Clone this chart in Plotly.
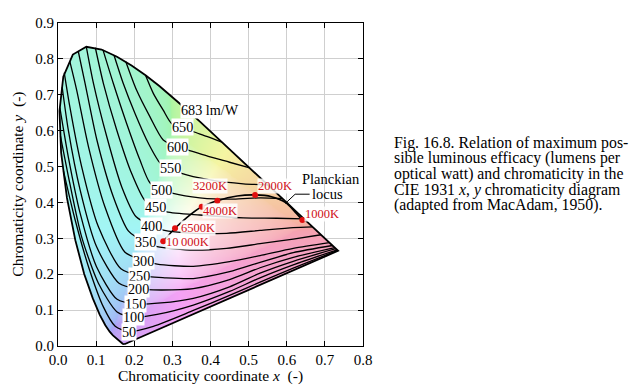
import numpy as np
import plotly.graph_objects as go

# ---------------- data ----------------
# CIE 1931 spectral locus, 380 nm ... 700 nm
locus_x = [0.1741, 0.1740, 0.1738, 0.1736, 0.1733, 0.1730, 0.1726, 0.1721, 0.1714, 0.1703,
           0.1689, 0.1669, 0.1644, 0.1611, 0.1566, 0.1510, 0.1440, 0.1355, 0.1241, 0.1096,
           0.0913, 0.0687, 0.0454, 0.0235, 0.0082, 0.0039, 0.0139, 0.0389, 0.0743, 0.1142,
           0.1547, 0.1929, 0.2296, 0.2658, 0.3016, 0.3373, 0.3731, 0.4087, 0.4441, 0.4788,
           0.5125, 0.5448, 0.5752, 0.6029, 0.6270, 0.6482, 0.6658, 0.6801, 0.6915, 0.7006,
           0.7079, 0.7140, 0.7190, 0.7230, 0.7260, 0.7283, 0.7300, 0.7311, 0.7320, 0.7334,
           0.7344, 0.7347]
locus_y = [0.0050, 0.0050, 0.0049, 0.0049, 0.0048, 0.0048, 0.0048, 0.0048, 0.0051, 0.0058,
           0.0069, 0.0086, 0.0109, 0.0138, 0.0177, 0.0227, 0.0297, 0.0399, 0.0578, 0.0868,
           0.1327, 0.2007, 0.2950, 0.4127, 0.5384, 0.6548, 0.7502, 0.8120, 0.8338, 0.8262,
           0.8059, 0.7816, 0.7543, 0.7243, 0.6923, 0.6589, 0.6245, 0.5896, 0.5547, 0.5202,
           0.4866, 0.4544, 0.4242, 0.3965, 0.3725, 0.3514, 0.3340, 0.3197, 0.3083, 0.2993,
           0.2920, 0.2859, 0.2809, 0.2770, 0.2740, 0.2717, 0.2700, 0.2689, 0.2680, 0.2666,
           0.2656, 0.2653]

# maximum luminous efficacy contours (lm/W)
c650_x = [0.2296, 0.250, 0.276, 0.298, 0.326, 0.355, 0.390, 0.430]
c650_y = [0.7543, 0.704, 0.657, 0.620, 0.609, 0.597, 0.584, 0.568]
c600_x = [0.178, 0.206, 0.241, 0.276, 0.313, 0.342, 0.399, 0.450, 0.503]
c600_y = [0.792, 0.713, 0.639, 0.574, 0.555, 0.546, 0.527, 0.512, 0.496]
c550_x = [0.147, 0.171, 0.202, 0.237, 0.268, 0.296, 0.324, 0.399, 0.486, 0.550]
c550_y = [0.810, 0.732, 0.648, 0.565, 0.510, 0.495, 0.481, 0.463, 0.452, 0.449]
c500_x = [0.118, 0.145, 0.180, 0.215, 0.241, 0.272, 0.302, 0.372, 0.460, 0.530, 0.588]
c500_y = [0.825, 0.732, 0.620, 0.518, 0.455, 0.436, 0.425, 0.413, 0.409, 0.413, 0.411]
c450_x = [0.098, 0.119, 0.154, 0.193, 0.228, 0.256, 0.285, 0.372, 0.486, 0.574, 0.645]
c450_y = [0.831, 0.732, 0.602, 0.481, 0.405, 0.386, 0.374, 0.365, 0.357, 0.356, 0.354]
c400_x = [0.0743, 0.093, 0.128, 0.167, 0.205, 0.246, 0.276, 0.355, 0.442, 0.530, 0.617, 0.668]
c400_y = [0.8338, 0.732, 0.583, 0.444, 0.360, 0.335, 0.323, 0.314, 0.314, 0.322, 0.330, 0.332]
c350_x = [0.053, 0.071, 0.102, 0.145, 0.185, 0.230, 0.260, 0.355, 0.442, 0.530, 0.617, 0.690]
c350_y = [0.822, 0.732, 0.574, 0.416, 0.320, 0.289, 0.277, 0.267, 0.272, 0.285, 0.298, 0.310]
c300_x = [0.031, 0.049, 0.080, 0.123, 0.175, 0.224, 0.260, 0.355, 0.450, 0.530, 0.617, 0.712]
c300_y = [0.793, 0.713, 0.555, 0.388, 0.262, 0.238, 0.228, 0.222, 0.235, 0.252, 0.272, 0.288]
c250_x = [0.0164, 0.031, 0.062, 0.106, 0.165, 0.215, 0.280, 0.355, 0.450, 0.530, 0.617, 0.720]
c250_y = [0.762, 0.667, 0.500, 0.332, 0.215, 0.196, 0.190, 0.188, 0.207, 0.233, 0.260, 0.280]
c200_x = [0.011, 0.027, 0.058, 0.101, 0.160, 0.210, 0.270, 0.355, 0.450, 0.530, 0.617, 0.726]
c200_y = [0.721, 0.602, 0.435, 0.277, 0.175, 0.159, 0.156, 0.160, 0.185, 0.218, 0.247, 0.274]
c150_x = [0.0049, 0.027, 0.058, 0.101, 0.155, 0.204, 0.270, 0.355, 0.450, 0.530, 0.617, 0.729]
c150_y = [0.664, 0.527, 0.370, 0.221, 0.130, 0.117, 0.120, 0.133, 0.165, 0.203, 0.236, 0.271]
c100_x = [0.0065, 0.031, 0.062, 0.106, 0.155, 0.199, 0.260, 0.355, 0.450, 0.530, 0.617, 0.732]
c100_y = [0.585, 0.453, 0.304, 0.175, 0.095, 0.080, 0.088, 0.114, 0.152, 0.190, 0.226, 0.268]
c50_x = [0.0143, 0.045, 0.080, 0.119, 0.150, 0.186, 0.250, 0.355, 0.450, 0.530, 0.617, 0.7335]
c50_y = [0.488, 0.351, 0.221, 0.109, 0.055, 0.040, 0.055, 0.099, 0.141, 0.178, 0.217, 0.2665]

contours = [(c650_x, c650_y), (c600_x, c600_y), (c550_x, c550_y), (c500_x, c500_y),
            (c450_x, c450_y), (c400_x, c400_y), (c350_x, c350_y), (c300_x, c300_y),
            (c250_x, c250_y), (c200_x, c200_y), (c150_x, c150_y), (c100_x, c100_y),
            (c50_x, c50_y)]

label_text = ["683 lm/W", "650", "600", "550", "500", "450", "400", "350", "300",
              "250", "200", "150", "100", "50"]
label_x = [0.399, 0.326, 0.313, 0.296, 0.272, 0.256, 0.246, 0.230, 0.224, 0.215, 0.210, 0.204, 0.199, 0.186]
label_y = [0.657, 0.609, 0.555, 0.495, 0.436, 0.386, 0.335, 0.289, 0.238, 0.196, 0.159, 0.117, 0.080, 0.040]

# Planckian locus
planck_curve_x = [0.276, 0.307, 0.340, 0.377, 0.418, 0.470, 0.517, 0.560, 0.598, 0.622, 0.641]
planck_curve_y = [0.292, 0.328, 0.360, 0.388, 0.405, 0.418, 0.421, 0.416, 0.399, 0.373, 0.351]
planck_pt_x = [0.276, 0.307, 0.377, 0.418, 0.517, 0.641]
planck_pt_y = [0.292, 0.328, 0.388, 0.405, 0.421, 0.351]
planck_lbl = ["10\u2009000K", "6500K", "4000K", "3200K", "2000K", "1000K"]
planck_lbl_x = [0.340, 0.368, 0.424, 0.398, 0.570, 0.692]
planck_lbl_y = [0.291, 0.330, 0.376, 0.447, 0.446, 0.368]

pointer_x = [0.596, 0.622, 0.660]
pointer_y = [0.397, 0.423, 0.423]

caption_lines = ["Fig. 16.8. Relation of maximum pos-",
                 "sible luminous efficacy (lumens per",
                 "optical watt) and chromaticity in the",
                 "CIE 1931 <i>x</i>, <i>y</i> chromaticity diagram",
                 "(adapted from MacAdam, 1950)."]

# ---------------- colour fill image ----------------
step = 0.0025
gx = np.arange(0.0, 0.745, step) + step / 2
gy = np.arange(0.0, 0.845, step) + step / 2
X, Y = np.meshgrid(gx, gy)
px_ = np.array(locus_x)
py_ = np.array(locus_y)
n = len(px_)
inside = np.zeros(X.shape, dtype=bool)
for i in range(n):
    x1, y1 = px_[i], py_[i]
    x2, y2 = px_[(i + 1) % n], py_[(i + 1) % n]
    cond = (y1 > Y) != (y2 > Y)
    denom = (y2 - y1) if abs(y2 - y1) > 1e-12 else 1e-12
    xint = (x2 - x1) * (Y - y1) / denom + x1
    inside ^= cond & (X < xint)

Ys = np.maximum(Y, 1e-4)
Xv = X / Ys
Zv = (1 - X - Y) / Ys
R = 3.2406 * Xv - 1.5372 - 0.4986 * Zv
G = -0.9689 * Xv + 1.8758 + 0.0415 * Zv
B = 0.0557 * Xv - 0.2040 + 1.0570 * Zv
rgb = np.stack([R, G, B], axis=-1)
mn = rgb.min(axis=-1, keepdims=True)
rgb = rgb - np.minimum(mn, 0)
rgb = rgb / np.maximum(rgb.max(axis=-1, keepdims=True), 1e-9)
rgb = np.clip(rgb, 0, 1) ** (1 / 2.2)
sat = 1 - rgb.min(axis=-1, keepdims=True)
rgb = 1 - (1 - rgb) * 0.34
rgb = rgb * (1 - 0.04 * sat)
rgb8 = np.round(rgb * 255).astype(int)
alpha = inside.astype(int)
img = np.concatenate([rgb8, alpha[..., None]], axis=-1).tolist()

fig = go.Figure()
fig.add_trace(go.Image(z=img, colormodel="rgba", x0=gx[0], dx=step, y0=gy[0], dy=step,
                       hoverinfo="skip"))

for cx, cy in contours:
    fig.add_trace(go.Scatter(x=cx, y=cy, mode="lines",
                             line=dict(color="black", width=1.3, shape="spline", smoothing=0.7),
                             hoverinfo="skip", showlegend=False))

fig.add_trace(go.Scatter(x=locus_x + [locus_x[0]], y=locus_y + [locus_y[0]], mode="lines",
                         line=dict(color="black", width=1.8), hoverinfo="skip", showlegend=False))

fig.add_trace(go.Scatter(x=planck_curve_x, y=planck_curve_y, mode="lines",
                         line=dict(color="black", width=1.6, shape="spline", smoothing=0.8),
                         hoverinfo="skip", showlegend=False))
fig.add_trace(go.Scatter(x=pointer_x, y=pointer_y, mode="lines",
                         line=dict(color="black", width=1), hoverinfo="skip", showlegend=False))
fig.add_trace(go.Scatter(x=planck_pt_x, y=planck_pt_y, mode="markers",
                         marker=dict(color="#e01010", size=6), hoverinfo="skip", showlegend=False))

serif = "Liberation Serif, Times New Roman, serif"
ann = []
for t, x, y in zip(label_text, label_x, label_y):
    ann.append(dict(x=x, y=y, xref="x", yref="y", text=t, showarrow=False,
                    font=dict(family=serif, size=14.2, color="black"),
                    bgcolor="white", borderpad=0, xanchor="center", yanchor="middle"))
for t, x, y in zip(planck_lbl, planck_lbl_x, planck_lbl_y):
    ann.append(dict(x=x, y=y, xref="x", yref="y", text=t, showarrow=False,
                    font=dict(family=serif, size=12.5, color="#d01020"),
                    bgcolor="rgba(255,255,255,0.85)", borderpad=0,
                    xanchor="center", yanchor="middle"))
ann.append(dict(x=0.716, y=0.464, xref="x", yref="y", text="Planckian", showarrow=False,
                font=dict(family=serif, size=14.5, color="black"), xanchor="center", yanchor="middle"))
ann.append(dict(x=0.707, y=0.424, xref="x", yref="y", text="locus", showarrow=False,
                font=dict(family=serif, size=14.5, color="black"), xanchor="center", yanchor="middle"))

# axis titles
ann.append(dict(x=0.5, y=-0.094, xref="paper", yref="paper",
                text="Chromaticity coordinate <i>x</i>\u00a0 (-)", showarrow=False,
                font=dict(family=serif, size=15.5, color="black"), xanchor="center", yanchor="middle"))
ann.append(dict(x=-0.134, y=0.5, xref="paper", yref="paper", textangle=-90,
                text="Chromaticity coordinate <i>y</i>\u00a0 (-)", showarrow=False,
                font=dict(family=serif, size=15.5, color="black"), xanchor="center", yanchor="middle"))

# caption
cap_py = [142.5, 158.2, 173.9, 189.6, 205.3]
for t, py in zip(caption_lines, cap_py):
    ann.append(dict(x=(392 - 58) / 305, y=(346 - py) / 323, xref="paper", yref="paper",
                    text=t, showarrow=False, align="left",
                    font=dict(family=serif, size=15.8, color="black"),
                    xanchor="left", yanchor="middle"))

axis_common = dict(showgrid=True, gridcolor="#cfcfcf", gridwidth=1, zeroline=False,
                   showline=True, linecolor="black", linewidth=1, mirror="ticks",
                   ticks="inside", ticklen=5, tickcolor="black", dtick=0.1, tickformat=".1f",
                   tickfont=dict(family=serif, size=15, color="black"), automargin=False)

# the page body adds an 8 px offset, so margins are reduced on the left/top
fig.update_layout(
    width=640, height=390,
    margin=dict(l=50, r=285, t=15, b=52),
    paper_bgcolor="white", plot_bgcolor="white",
    showlegend=False,
    xaxis=dict(range=[0, 0.8], tick0=0, constrain="range", **axis_common),
    yaxis=dict(range=[0, 0.9], tick0=0, autorange=False, scaleanchor=False,
               constrain="range", **axis_common),
    annotations=ann,
)

fig.write_html("out.html")
